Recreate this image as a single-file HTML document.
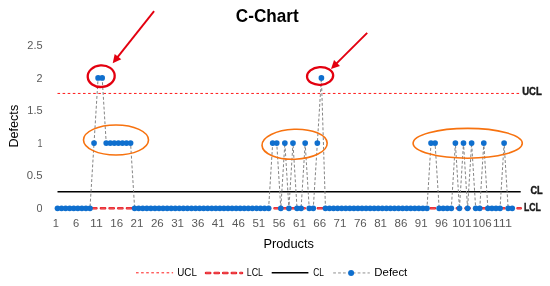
<!DOCTYPE html><html><head><meta charset="utf-8"><title>C-Chart</title><style>html,body{margin:0;padding:0;background:#fff}svg{display:block}text{font-family:"Liberation Sans",sans-serif}</style></head><body>
<svg width="550" height="286" viewBox="0 0 550 286">
<rect width="550" height="286" fill="#fff"/>
<text x="235.8" y="21.5" font-size="18.4" font-weight="bold" fill="#000" text-anchor="start" textLength="62.9" lengthAdjust="spacingAndGlyphs">C-Chart</text>
<text x="42.6" y="49.0" font-size="11.1" font-weight="normal" fill="#595959" text-anchor="end" textLength="15.3" lengthAdjust="spacingAndGlyphs">2.5</text>
<text x="42.6" y="81.6" font-size="11.1" font-weight="normal" fill="#595959" text-anchor="end" textLength="6" lengthAdjust="spacingAndGlyphs">2</text>
<text x="42.6" y="114.2" font-size="11.1" font-weight="normal" fill="#595959" text-anchor="end" textLength="15.3" lengthAdjust="spacingAndGlyphs">1.5</text>
<text x="42.6" y="146.8" font-size="11.1" font-weight="normal" fill="#595959" text-anchor="end" textLength="5" lengthAdjust="spacingAndGlyphs">1</text>
<text x="42.6" y="179.4" font-size="11.1" font-weight="normal" fill="#595959" text-anchor="end" textLength="15.8" lengthAdjust="spacingAndGlyphs">0.5</text>
<text x="42.6" y="212.0" font-size="11.1" font-weight="normal" fill="#595959" text-anchor="end" textLength="6" lengthAdjust="spacingAndGlyphs">0</text>
<text x="55.8" y="227.2" font-size="11.1" font-weight="normal" fill="#595959" text-anchor="middle" textLength="6.2" lengthAdjust="spacingAndGlyphs">1</text>
<text x="76.1" y="227.2" font-size="11.1" font-weight="normal" fill="#595959" text-anchor="middle" textLength="6.2" lengthAdjust="spacingAndGlyphs">6</text>
<text x="96.4" y="227.2" font-size="11.1" font-weight="normal" fill="#595959" text-anchor="middle" textLength="12.8" lengthAdjust="spacingAndGlyphs">11</text>
<text x="116.7" y="227.2" font-size="11.1" font-weight="normal" fill="#595959" text-anchor="middle" textLength="12.8" lengthAdjust="spacingAndGlyphs">16</text>
<text x="137.0" y="227.2" font-size="11.1" font-weight="normal" fill="#595959" text-anchor="middle" textLength="12.8" lengthAdjust="spacingAndGlyphs">21</text>
<text x="157.3" y="227.2" font-size="11.1" font-weight="normal" fill="#595959" text-anchor="middle" textLength="12.8" lengthAdjust="spacingAndGlyphs">26</text>
<text x="177.6" y="227.2" font-size="11.1" font-weight="normal" fill="#595959" text-anchor="middle" textLength="12.8" lengthAdjust="spacingAndGlyphs">31</text>
<text x="197.9" y="227.2" font-size="11.1" font-weight="normal" fill="#595959" text-anchor="middle" textLength="12.8" lengthAdjust="spacingAndGlyphs">36</text>
<text x="218.2" y="227.2" font-size="11.1" font-weight="normal" fill="#595959" text-anchor="middle" textLength="12.8" lengthAdjust="spacingAndGlyphs">41</text>
<text x="238.5" y="227.2" font-size="11.1" font-weight="normal" fill="#595959" text-anchor="middle" textLength="12.8" lengthAdjust="spacingAndGlyphs">46</text>
<text x="258.8" y="227.2" font-size="11.1" font-weight="normal" fill="#595959" text-anchor="middle" textLength="12.8" lengthAdjust="spacingAndGlyphs">51</text>
<text x="279.1" y="227.2" font-size="11.1" font-weight="normal" fill="#595959" text-anchor="middle" textLength="12.8" lengthAdjust="spacingAndGlyphs">56</text>
<text x="299.4" y="227.2" font-size="11.1" font-weight="normal" fill="#595959" text-anchor="middle" textLength="12.8" lengthAdjust="spacingAndGlyphs">61</text>
<text x="319.7" y="227.2" font-size="11.1" font-weight="normal" fill="#595959" text-anchor="middle" textLength="12.8" lengthAdjust="spacingAndGlyphs">66</text>
<text x="340.0" y="227.2" font-size="11.1" font-weight="normal" fill="#595959" text-anchor="middle" textLength="12.8" lengthAdjust="spacingAndGlyphs">71</text>
<text x="360.3" y="227.2" font-size="11.1" font-weight="normal" fill="#595959" text-anchor="middle" textLength="12.8" lengthAdjust="spacingAndGlyphs">76</text>
<text x="380.6" y="227.2" font-size="11.1" font-weight="normal" fill="#595959" text-anchor="middle" textLength="12.8" lengthAdjust="spacingAndGlyphs">81</text>
<text x="400.9" y="227.2" font-size="11.1" font-weight="normal" fill="#595959" text-anchor="middle" textLength="12.8" lengthAdjust="spacingAndGlyphs">86</text>
<text x="421.2" y="227.2" font-size="11.1" font-weight="normal" fill="#595959" text-anchor="middle" textLength="12.8" lengthAdjust="spacingAndGlyphs">91</text>
<text x="441.5" y="227.2" font-size="11.1" font-weight="normal" fill="#595959" text-anchor="middle" textLength="12.8" lengthAdjust="spacingAndGlyphs">96</text>
<text x="461.8" y="227.2" font-size="11.1" font-weight="normal" fill="#595959" text-anchor="middle" textLength="19.3" lengthAdjust="spacingAndGlyphs">101</text>
<text x="482.1" y="227.2" font-size="11.1" font-weight="normal" fill="#595959" text-anchor="middle" textLength="19.3" lengthAdjust="spacingAndGlyphs">106</text>
<text x="502.4" y="227.2" font-size="11.1" font-weight="normal" fill="#595959" text-anchor="middle" textLength="19.3" lengthAdjust="spacingAndGlyphs">111</text>
<text x="263.4" y="248" font-size="12.9" font-weight="normal" fill="#000" text-anchor="start" textLength="50.6" lengthAdjust="spacingAndGlyphs">Products</text>
<g transform="translate(18.2,147.6) rotate(-90)"><text x="0" y="0" font-size="12.6" font-weight="normal" fill="#000" text-anchor="start" textLength="42.8" lengthAdjust="spacingAndGlyphs">Defects</text></g>
<line x1="57.5" y1="93.45" x2="520.7" y2="93.45" stroke="#ff1a1a" stroke-width="1" stroke-dasharray="2.6 2.5"/>
<line x1="57.5" y1="208.15" x2="520.7" y2="208.15" stroke="#e6141e" stroke-width="2.5" stroke-linecap="round" stroke-dasharray="4.2 4.48"/>
<line x1="57.5" y1="208.15" x2="520.7" y2="208.15" stroke="#f47c7c" stroke-width="0.8" stroke-linecap="round" stroke-dasharray="4.2 4.48"/>
<line x1="57.5" y1="191.8" x2="520.7" y2="191.8" stroke="#000" stroke-width="1.4"/>
<polyline points="57.50,208.30 61.56,208.30 65.62,208.30 69.68,208.30 73.74,208.30 77.80,208.30 81.86,208.30 85.92,208.30 89.98,208.30 94.04,143.10 98.10,77.90 102.16,77.90 106.22,143.10 110.28,143.10 114.34,143.10 118.40,143.10 122.46,143.10 126.52,143.10 130.58,143.10 134.64,208.30 138.70,208.30 142.76,208.30 146.82,208.30 150.88,208.30 154.94,208.30 159.00,208.30 163.06,208.30 167.12,208.30 171.18,208.30 175.24,208.30 179.30,208.30 183.36,208.30 187.42,208.30 191.48,208.30 195.54,208.30 199.60,208.30 203.66,208.30 207.72,208.30 211.78,208.30 215.84,208.30 219.90,208.30 223.96,208.30 228.02,208.30 232.08,208.30 236.14,208.30 240.20,208.30 244.26,208.30 248.32,208.30 252.38,208.30 256.44,208.30 260.50,208.30 264.56,208.30 268.62,208.30 272.68,143.10 276.74,143.10 280.80,208.30 284.86,143.10 288.92,208.30 292.98,143.10 297.04,208.30 301.10,208.30 305.16,143.10 309.22,208.30 313.28,208.30 317.34,143.10 321.40,77.90 325.46,208.30 329.52,208.30 333.58,208.30 337.64,208.30 341.70,208.30 345.76,208.30 349.82,208.30 353.88,208.30 357.94,208.30 362.00,208.30 366.06,208.30 370.12,208.30 374.18,208.30 378.24,208.30 382.30,208.30 386.36,208.30 390.42,208.30 394.48,208.30 398.54,208.30 402.60,208.30 406.66,208.30 410.72,208.30 414.78,208.30 418.84,208.30 422.90,208.30 426.96,208.30 431.02,143.10 435.08,143.10 439.14,208.30 443.20,208.30 447.26,208.30 451.32,208.30 455.38,143.10 459.44,208.30 463.50,143.10 467.56,208.30 471.62,143.10 475.68,208.30 479.74,208.30 483.80,143.10 487.86,208.30 491.92,208.30 495.98,208.30 500.04,208.30 504.10,143.10 508.16,208.30 512.22,208.30" fill="none" stroke="#7d7d7d" stroke-width="0.95" stroke-dasharray="2.9 2.0"/>
<g fill="#0f6fce"><circle cx="57.50" cy="208.30" r="2.85"/><circle cx="61.56" cy="208.30" r="2.85"/><circle cx="65.62" cy="208.30" r="2.85"/><circle cx="69.68" cy="208.30" r="2.85"/><circle cx="73.74" cy="208.30" r="2.85"/><circle cx="77.80" cy="208.30" r="2.85"/><circle cx="81.86" cy="208.30" r="2.85"/><circle cx="85.92" cy="208.30" r="2.85"/><circle cx="89.98" cy="208.30" r="2.85"/><circle cx="94.04" cy="143.10" r="2.85"/><circle cx="98.10" cy="77.90" r="2.85"/><circle cx="102.16" cy="77.90" r="2.85"/><circle cx="106.22" cy="143.10" r="2.85"/><circle cx="110.28" cy="143.10" r="2.85"/><circle cx="114.34" cy="143.10" r="2.85"/><circle cx="118.40" cy="143.10" r="2.85"/><circle cx="122.46" cy="143.10" r="2.85"/><circle cx="126.52" cy="143.10" r="2.85"/><circle cx="130.58" cy="143.10" r="2.85"/><circle cx="134.64" cy="208.30" r="2.85"/><circle cx="138.70" cy="208.30" r="2.85"/><circle cx="142.76" cy="208.30" r="2.85"/><circle cx="146.82" cy="208.30" r="2.85"/><circle cx="150.88" cy="208.30" r="2.85"/><circle cx="154.94" cy="208.30" r="2.85"/><circle cx="159.00" cy="208.30" r="2.85"/><circle cx="163.06" cy="208.30" r="2.85"/><circle cx="167.12" cy="208.30" r="2.85"/><circle cx="171.18" cy="208.30" r="2.85"/><circle cx="175.24" cy="208.30" r="2.85"/><circle cx="179.30" cy="208.30" r="2.85"/><circle cx="183.36" cy="208.30" r="2.85"/><circle cx="187.42" cy="208.30" r="2.85"/><circle cx="191.48" cy="208.30" r="2.85"/><circle cx="195.54" cy="208.30" r="2.85"/><circle cx="199.60" cy="208.30" r="2.85"/><circle cx="203.66" cy="208.30" r="2.85"/><circle cx="207.72" cy="208.30" r="2.85"/><circle cx="211.78" cy="208.30" r="2.85"/><circle cx="215.84" cy="208.30" r="2.85"/><circle cx="219.90" cy="208.30" r="2.85"/><circle cx="223.96" cy="208.30" r="2.85"/><circle cx="228.02" cy="208.30" r="2.85"/><circle cx="232.08" cy="208.30" r="2.85"/><circle cx="236.14" cy="208.30" r="2.85"/><circle cx="240.20" cy="208.30" r="2.85"/><circle cx="244.26" cy="208.30" r="2.85"/><circle cx="248.32" cy="208.30" r="2.85"/><circle cx="252.38" cy="208.30" r="2.85"/><circle cx="256.44" cy="208.30" r="2.85"/><circle cx="260.50" cy="208.30" r="2.85"/><circle cx="264.56" cy="208.30" r="2.85"/><circle cx="268.62" cy="208.30" r="2.85"/><circle cx="272.68" cy="143.10" r="2.85"/><circle cx="276.74" cy="143.10" r="2.85"/><circle cx="280.80" cy="208.30" r="2.85"/><circle cx="284.86" cy="143.10" r="2.85"/><circle cx="288.92" cy="208.30" r="2.85"/><circle cx="292.98" cy="143.10" r="2.85"/><circle cx="297.04" cy="208.30" r="2.85"/><circle cx="301.10" cy="208.30" r="2.85"/><circle cx="305.16" cy="143.10" r="2.85"/><circle cx="309.22" cy="208.30" r="2.85"/><circle cx="313.28" cy="208.30" r="2.85"/><circle cx="317.34" cy="143.10" r="2.85"/><circle cx="321.40" cy="77.90" r="2.85"/><circle cx="325.46" cy="208.30" r="2.85"/><circle cx="329.52" cy="208.30" r="2.85"/><circle cx="333.58" cy="208.30" r="2.85"/><circle cx="337.64" cy="208.30" r="2.85"/><circle cx="341.70" cy="208.30" r="2.85"/><circle cx="345.76" cy="208.30" r="2.85"/><circle cx="349.82" cy="208.30" r="2.85"/><circle cx="353.88" cy="208.30" r="2.85"/><circle cx="357.94" cy="208.30" r="2.85"/><circle cx="362.00" cy="208.30" r="2.85"/><circle cx="366.06" cy="208.30" r="2.85"/><circle cx="370.12" cy="208.30" r="2.85"/><circle cx="374.18" cy="208.30" r="2.85"/><circle cx="378.24" cy="208.30" r="2.85"/><circle cx="382.30" cy="208.30" r="2.85"/><circle cx="386.36" cy="208.30" r="2.85"/><circle cx="390.42" cy="208.30" r="2.85"/><circle cx="394.48" cy="208.30" r="2.85"/><circle cx="398.54" cy="208.30" r="2.85"/><circle cx="402.60" cy="208.30" r="2.85"/><circle cx="406.66" cy="208.30" r="2.85"/><circle cx="410.72" cy="208.30" r="2.85"/><circle cx="414.78" cy="208.30" r="2.85"/><circle cx="418.84" cy="208.30" r="2.85"/><circle cx="422.90" cy="208.30" r="2.85"/><circle cx="426.96" cy="208.30" r="2.85"/><circle cx="431.02" cy="143.10" r="2.85"/><circle cx="435.08" cy="143.10" r="2.85"/><circle cx="439.14" cy="208.30" r="2.85"/><circle cx="443.20" cy="208.30" r="2.85"/><circle cx="447.26" cy="208.30" r="2.85"/><circle cx="451.32" cy="208.30" r="2.85"/><circle cx="455.38" cy="143.10" r="2.85"/><circle cx="459.44" cy="208.30" r="2.85"/><circle cx="463.50" cy="143.10" r="2.85"/><circle cx="467.56" cy="208.30" r="2.85"/><circle cx="471.62" cy="143.10" r="2.85"/><circle cx="475.68" cy="208.30" r="2.85"/><circle cx="479.74" cy="208.30" r="2.85"/><circle cx="483.80" cy="143.10" r="2.85"/><circle cx="487.86" cy="208.30" r="2.85"/><circle cx="491.92" cy="208.30" r="2.85"/><circle cx="495.98" cy="208.30" r="2.85"/><circle cx="500.04" cy="208.30" r="2.85"/><circle cx="504.10" cy="143.10" r="2.85"/><circle cx="508.16" cy="208.30" r="2.85"/><circle cx="512.22" cy="208.30" r="2.85"/></g>
<text x="522.2" y="94.5" font-size="11.2" font-weight="bold" fill="#1a1a1a" text-anchor="start" textLength="19.6" lengthAdjust="spacingAndGlyphs" stroke="#1a1a1a" stroke-width="0.45">UCL</text>
<text x="530.4" y="194.4" font-size="11.2" font-weight="bold" fill="#1a1a1a" text-anchor="start" textLength="12.3" lengthAdjust="spacingAndGlyphs" stroke="#1a1a1a" stroke-width="0.45">CL</text>
<text x="524.0" y="210.9" font-size="11.2" font-weight="bold" fill="#1a1a1a" text-anchor="start" textLength="16.9" lengthAdjust="spacingAndGlyphs" stroke="#1a1a1a" stroke-width="0.45">LCL</text>
<ellipse cx="116" cy="140" rx="32.5" ry="15" fill="none" stroke="#f7720f" stroke-width="1.6"/>
<ellipse cx="294.6" cy="144.25" rx="32.6" ry="15" fill="none" stroke="#f7720f" stroke-width="1.6" transform="rotate(-2 294.6 144.25)"/>
<ellipse cx="467.7" cy="143.3" rx="54.6" ry="14.9" fill="none" stroke="#f7720f" stroke-width="1.6"/>
<ellipse cx="101.2" cy="76.2" rx="13.5" ry="10.8" fill="none" stroke="#e3000f" stroke-width="2.3" transform="rotate(-4 101.2 76.2)"/>
<ellipse cx="320.1" cy="76.0" rx="13.1" ry="8.8" fill="none" stroke="#e3000f" stroke-width="2.3" transform="rotate(-4 320.1 76)"/>
<line x1="154.1" y1="11.2" x2="117.37" y2="57.43" stroke="#e3000f" stroke-width="1.9"/><polygon points="112.70,63.30 114.70,54.03 121.28,59.26" fill="#e3000f"/>
<line x1="367.2" y1="32.9" x2="336.31" y2="63.70" stroke="#e3000f" stroke-width="1.9"/><polygon points="331.00,69.00 334.05,60.02 339.98,65.97" fill="#e3000f"/>
<line x1="136" y1="272.8" x2="173.1" y2="272.8" stroke="#ff1a1a" stroke-width="1" stroke-dasharray="2.6 2.5"/>
<text x="177.3" y="275.7" font-size="10.8" font-weight="normal" fill="#000" text-anchor="start" textLength="19.6" lengthAdjust="spacingAndGlyphs">UCL</text>
<line x1="206" y1="272.95" x2="242" y2="272.95" stroke="#e6141e" stroke-width="2.5" stroke-linecap="round" stroke-dasharray="4.2 4.4"/>
<line x1="206" y1="272.95" x2="242" y2="272.95" stroke="#f47c7c" stroke-width="0.8" stroke-linecap="round" stroke-dasharray="4.2 4.4"/>
<text x="246.7" y="275.7" font-size="10.8" font-weight="normal" fill="#000" text-anchor="start" textLength="16.3" lengthAdjust="spacingAndGlyphs">LCL</text>
<line x1="271.7" y1="272.8" x2="308.4" y2="272.8" stroke="#000" stroke-width="1.4"/>
<text x="313.3" y="275.7" font-size="10.8" font-weight="normal" fill="#000" text-anchor="start" textLength="10.6" lengthAdjust="spacingAndGlyphs">CL</text>
<line x1="333.2" y1="272.95" x2="369.8" y2="272.95" stroke="#8f8f8f" stroke-width="1" stroke-dasharray="2.75 2.15"/>
<circle cx="351.1" cy="273" r="3.0" fill="#0f6fce"/>
<text x="374.3" y="275.7" font-size="10.8" font-weight="normal" fill="#000" text-anchor="start" textLength="33" lengthAdjust="spacingAndGlyphs">Defect</text>
</svg></body></html>
